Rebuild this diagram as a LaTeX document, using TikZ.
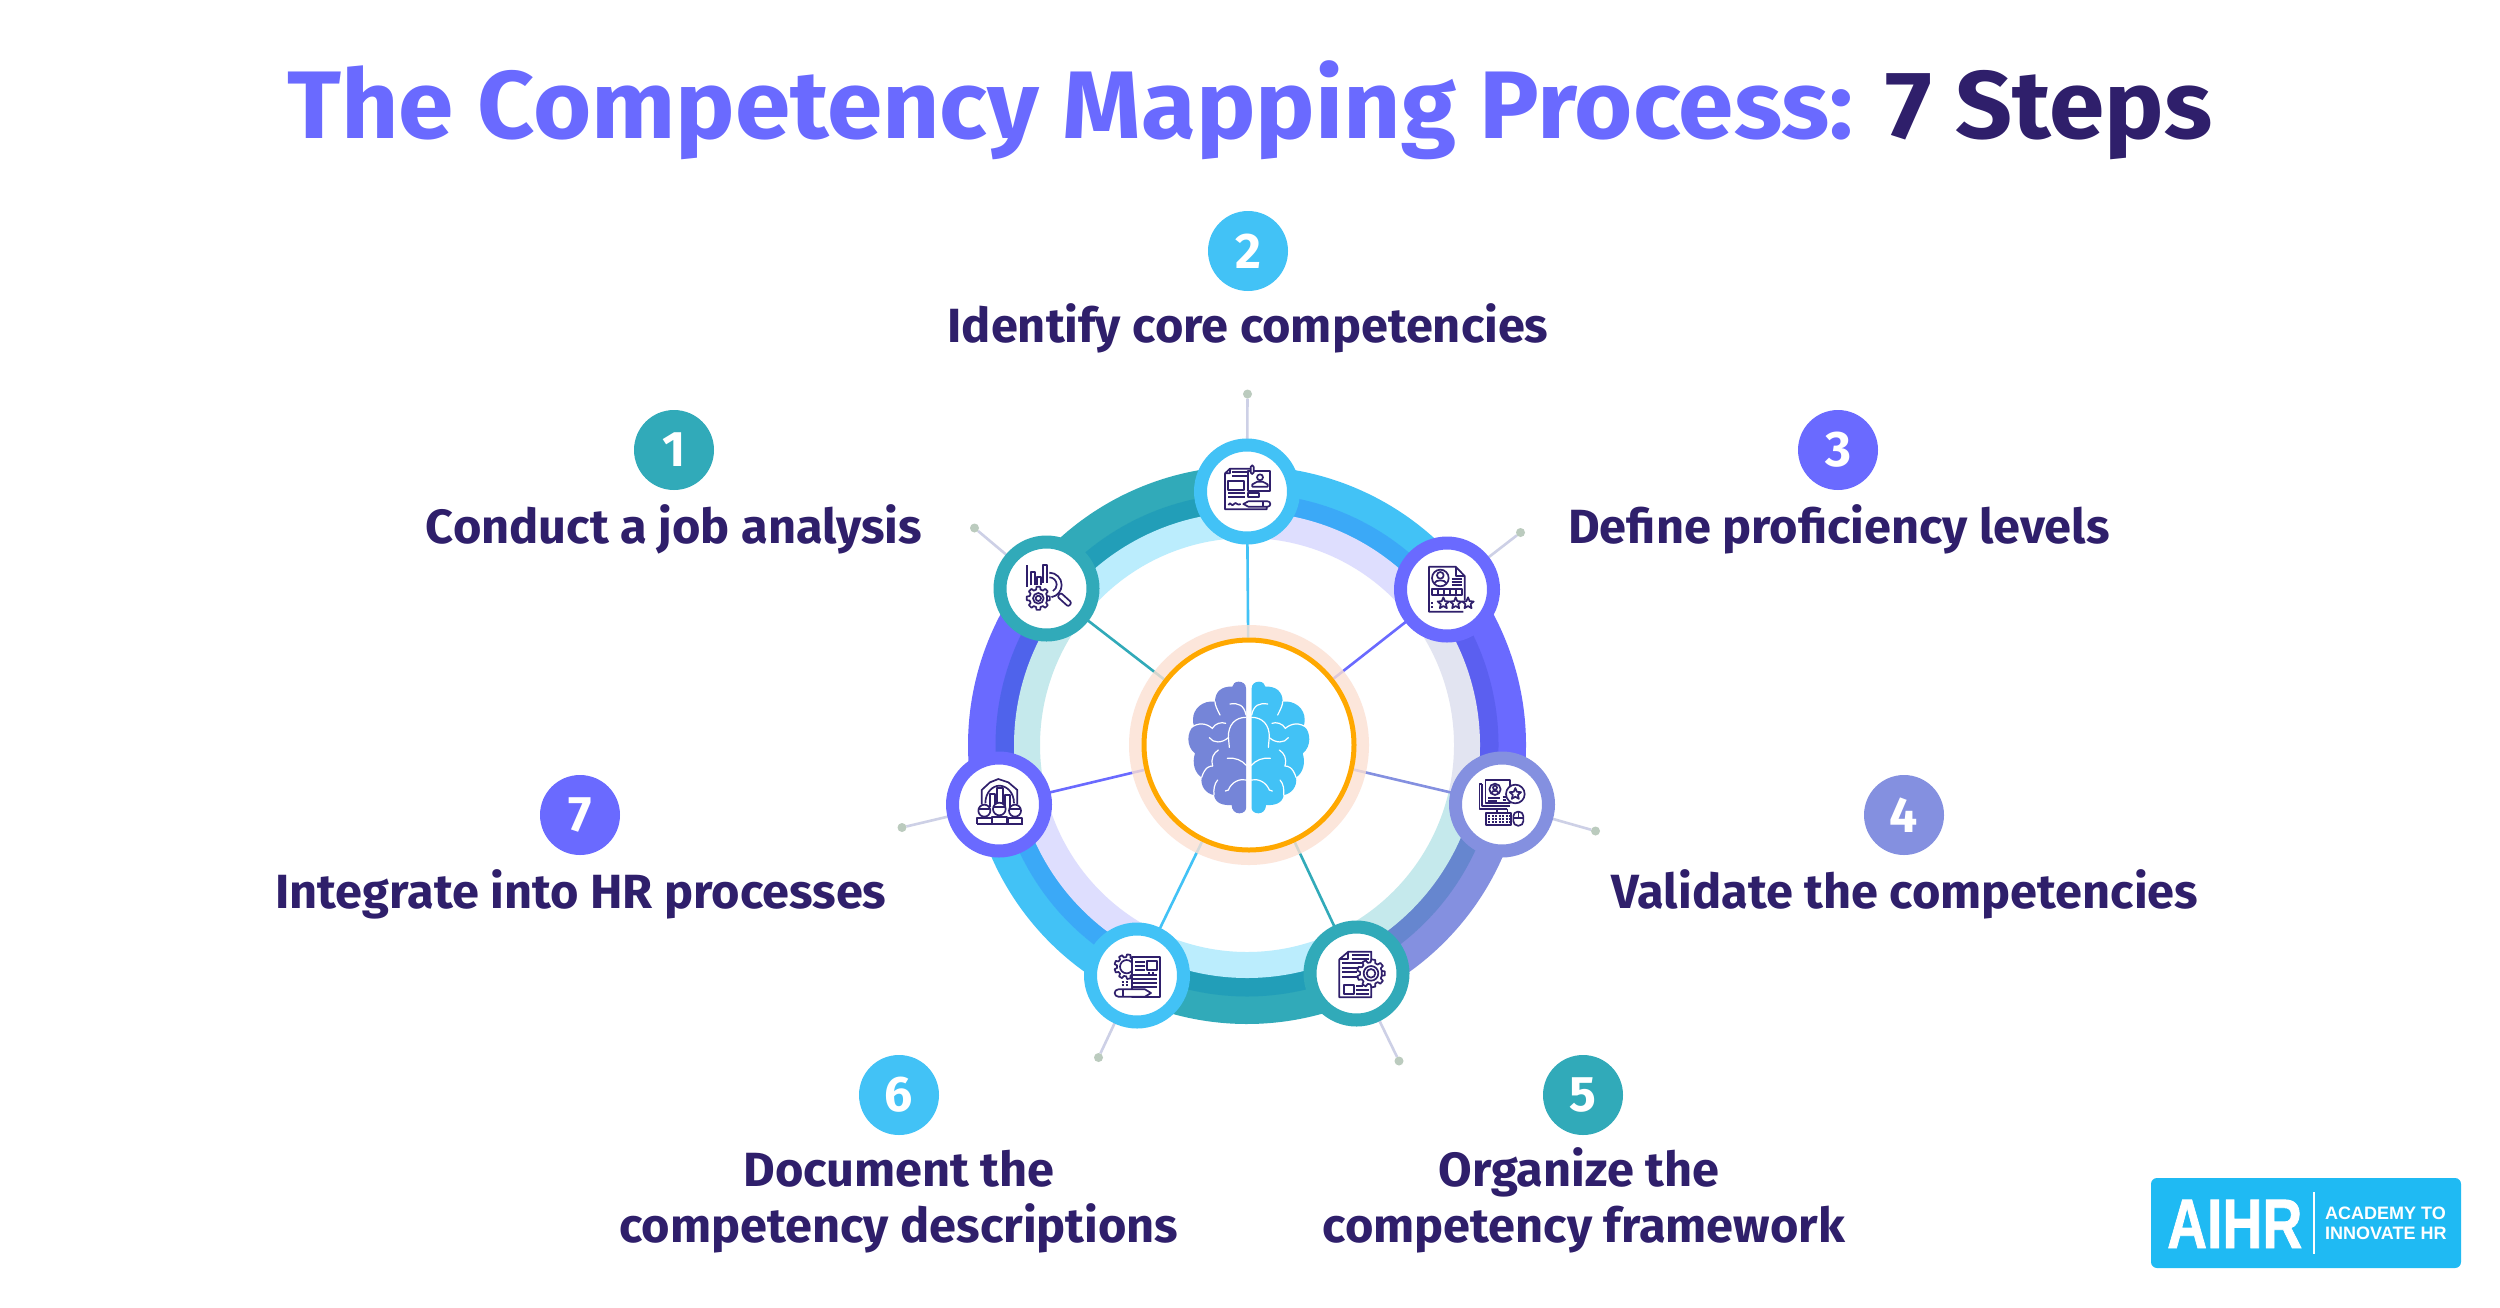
\documentclass[tikz,border=0pt]{standalone}
\usepackage{fontspec}
\setmainfont{Fira Sans}
\newfontfamily\titlefont[FakeStretch=1.04]{Fira Sans}
\newfontfamily\labelfont[FakeStretch=1.015]{Fira Sans}
\newfontfamily\logofont{Liberation Sans}
\newfontfamily\logobig[FakeBold=1.2]{Liberation Sans}
\usetikzlibrary{backgrounds}
\definecolor{cTeal}{HTML}{31AAB9}
\definecolor{cTealM}{HTML}{229EB8}
\definecolor{cSky}{HTML}{42C2F6}
\definecolor{cSkyM}{HTML}{3BA9F7}
\definecolor{cInd}{HTML}{6A6AFF}
\definecolor{cIndM}{HTML}{5B5FF0}
\definecolor{cIndN}{HTML}{4F63EB}
\definecolor{cPer}{HTML}{8490E0}
\definecolor{cPerM}{HTML}{6686CF}
\definecolor{lSky}{HTML}{BBEDFD}
\definecolor{lLav}{HTML}{DEDEFE}
\definecolor{lGry}{HTML}{E2E4F1}
\definecolor{lTeal}{HTML}{C5E9EC}
\definecolor{cDark}{HTML}{2F1F6B}
\definecolor{cPeach}{HTML}{FCE0D3}
\definecolor{cOrange}{HTML}{FFA800}
\definecolor{cLead}{HTML}{CDD0E6}
\definecolor{cDot}{HTML}{BBCBBE}
\definecolor{cBrain}{HTML}{7585D8}
\definecolor{cLogo}{HTML}{1FBAF3}
\tikzset{
  ringnode/.style={circle,fill=white,line width=13pt,minimum size=93pt,inner sep=0pt,outer sep=0pt},
  numnode/.style={circle,minimum size=80pt,inner sep=0pt,text=white,font=\fontsize{50}{50}\selectfont\bfseries},
  dotnode/.style={circle,fill=cDot,minimum size=9pt,inner sep=0pt,outer sep=0pt},
  labeltext/.style={anchor=base,inner sep=0pt,text=cDark,font=\fontsize{48}{48}\selectfont\labelfont\bfseries},
  spoke/.style={line width=2.6pt},
  leader/.style={cLead,line width=2.6pt},
  ic/.style={draw=cDark,line width=1.7pt,line join=round},
  zoomed/.style 2 args={shift={(#1pt,-#2pt)},x=.33333pt,y=-.33333pt},
  vein/.style={draw=white,line width=1.2pt,line cap=round}
}
\newcommand{\ringseg}[5]{%
  \draw[#3,line width=28pt] (1247,-745) ++(#1:265pt) arc[start angle=#1,end angle=#2,radius=265pt];
  \draw[#4,line width=19pt] (1247,-745) ++(#1:242pt) arc[start angle=#1,end angle=#2,radius=242pt];
  \draw[#5,line width=26pt] (1247,-745) ++(#1:220pt) arc[start angle=#1,end angle=#2,radius=220pt];
}
\newcommand{\cog}[5]{% cx cy rout rin n
  \begin{scope}[shift={(#1,#2)}]
    \pgfmathsetmacro{\st}{360/#5}
    \pgfmathsetmacro{\sa}{\st*.32}
    \pgfmathsetmacro{\sb}{\st*.2}
    \draw[ic,fill=white] (-\sa:#4) -- (-\sb:#3) -- (\sb:#3) -- (\sa:#4)
      \foreach \k in {1,...,#5} { -- ({\k*\st-\sa}:#4) -- ({\k*\st-\sb}:#3) -- ({\k*\st+\sb}:#3) -- ({\k*\st+\sa}:#4) } -- cycle;
  \end{scope}}
\newcommand{\staricon}[3]{%
  \begin{scope}[shift={(#1,#2)}]
    \draw[ic,fill=white] (-90:#3) -- (-54:#3*.45) -- (-18:#3) -- (18:#3*.45) -- (54:#3) -- (90:#3*.45) -- (126:#3) -- (162:#3*.45) -- (198:#3) -- (234:#3*.45) -- cycle;
  \end{scope}}
\newcommand{\brainhalf}{%
  \fill (378,505) -- (378,145) .. controls (378,132) and (368,125) .. (356,125) .. controls (345,125) and (338,132) .. (337,140) .. controls (305,138) and (285,155) .. (285,185) .. controls (250,180) and (218,205) .. (219,240) .. controls (219,248) and (220,252) .. (222,257) .. controls (200,275) and (198,320) .. (225,340) .. controls (215,370) and (225,400) .. (245,412) .. controls (240,440) and (260,462) .. (282,465) .. controls (285,490) and (310,497) .. (335,495) .. controls (335,510) and (345,520) .. (358,520) .. controls (370,520) and (378,512) .. (378,505) -- cycle;
  \draw[vein] (300,225) .. controls (290,205) and (285,195) .. (285,185);
  \draw[vein] (330,192) .. controls (355,188) and (372,195) .. (378,225);
  \draw[vein] (378,232) .. controls (345,232) and (325,255) .. (325,290) -- (328,322);
  \draw[vein] (210,265) .. controls (235,245) and (260,250) .. (277,265) .. controls (285,250) and (305,245) .. (317,250);
  \draw[vein] (268,293) .. controls (280,310) and (305,310) .. (325,293);
  \draw[vein] (295,330) .. controls (280,340) and (272,355) .. (278,378);
  \draw[vein] (245,412) .. controls (255,380) and (270,378) .. (278,378);
  \draw[vein] (322,355) .. controls (345,352) and (365,360) .. (380,377);
  \draw[vein] (293,420) .. controls (283,430) and (280,450) .. (282,465);
  \draw[vein] (316,453) -- (325,450) .. controls (335,425) and (360,415) .. (380,420);
}
\begin{document}
\begin{tikzpicture}[x=1pt,y=1pt]
\useasboundingbox (0,0) rectangle (2500,-1307);

% title
\node[anchor=base west,inner sep=0pt,font=\fontsize{96}{96}\selectfont\titlefont\bfseries] (title) at (287,-138)
  {\textcolor{cInd}{The Competency Mapping Process:} \textcolor{cDark}{7 Steps}};

% hub
\node[circle,fill=cPeach,fill opacity=.8,minimum size=240pt,inner sep=0pt,outer sep=0pt] (halo) at (1249,-745) {};
\node[circle,fill=white,draw=cOrange,line width=5pt,minimum size=210pt,inner sep=0pt] (hub) at (1249,-745) {};

% ring nodes
\node[ringnode,draw=cTeal] (n1) at (1046.5,-588.5) {};
\node[ringnode,draw=cSky] (n2) at (1247,-491.5) {};
\node[ringnode,draw=cInd] (n3) at (1447,-589.5) {};
\node[ringnode,draw=cPer] (n4) at (1502,-804.5) {};
\node[ringnode,draw=cTeal] (n5) at (1356.5,-973.5) {};
\node[ringnode,draw=cSky] (n6) at (1137,-975.5) {};
\node[ringnode,draw=cInd] (n7) at (999,-804.5) {};

% dots
\node[dotnode] (d1) at (974.5,-528) {};
\node[dotnode] (d2) at (1247.5,-394) {};
\node[dotnode] (d3) at (1520.5,-532.5) {};
\node[dotnode] (d4) at (1595.5,-831) {};
\node[dotnode] (d5) at (1399,-1061) {};
\node[dotnode] (d6) at (1098.5,-1057.5) {};
\node[dotnode] (d7) at (902,-827.5) {};

\begin{scope}[on background layer]
  \fill[white] (0,0) rectangle (2500,-1307);
  \ringseg{90.7}{38}{cSky}{cSkyM}{lLav}
  \ringseg{38}{-13}{cInd}{cIndM}{lGry}
  \ringseg{-13}{-64.7}{cPer}{cPerM}{lTeal}
  \ringseg{-64.7}{-116}{cTeal}{cTealM}{lSky}
  \ringseg{-116}{-166.7}{cSky}{cSkyM}{lLav}
  \ringseg{-166.7}{-217.7}{cInd}{cIndN}{lTeal}
  \ringseg{-217.7}{-269.3}{cTeal}{cTealM}{lSky}
  \draw[spoke,cTeal] (hub) -- (n1);
  \draw[spoke,cSky] (hub) -- (n2);
  \draw[spoke,cInd] (hub) -- (n3);
  \draw[spoke,cPer] (hub) -- (n4);
  \draw[spoke,cTeal] (hub) -- (n5);
  \draw[spoke,cSky] (hub) -- (n6);
  \draw[spoke,cInd] (hub) -- (n7);
  \draw[leader] (n1) -- (d1);
  \draw[leader] (n2) -- (d2);
  \draw[leader] (n3) -- (d3);
  \draw[leader] (n4) -- (d4);
  \draw[leader] (n5) -- (d5);
  \draw[leader] (n6) -- (d6);
  \draw[leader] (n7) -- (d7);
\end{scope}

% brain
\begin{scope}[zoomed={1120}{640}]
  \begin{scope}[cBrain]\brainhalf\end{scope}
  \begin{scope}[shift={(773,0)},x=-.33333pt,cSky]\brainhalf\end{scope}
\end{scope}

% icon 1 and 2
\begin{scope}[zoomed={1000}{440}]
  % icon 1
  \draw[ic] (80,375) -- (80,440);
  \draw[ic] (93,435) -- (93,395) -- (105,395) -- (105,435);
  \draw[ic] (110,435) -- (110,412) -- (122,412) -- (122,435);
  \draw[ic] (128,430) -- (128,375) -- (140,375) -- (140,430);
  \draw[ic] (148,398) arc[start angle=-90,end angle=80,radius=37];
  \draw[ic] (148,412) arc[start angle=-90,end angle=60,radius=22];
  \draw[ic,fill=white,rounded corners=2pt] (172,470) -- (182,458) -- (215,488) -- (205,500) -- cycle;
  \cog{115}{475}{35}{27}{8}
  \draw[ic] (115,475) circle[radius=16];
  \draw[ic] (115,475) circle[radius=8];
  % icon 2
  \draw[ic] (690,86) -- (755,86) (675,100) -- (690,86) -- (690,100) -- (675,100) -- (675,208) -- (800,208) -- (800,200);
  \draw[ic] (685,122) rectangle (733,150);
  \draw[ic] (697,97) -- (742,97) (697,108) -- (742,108) (685,160) -- (735,160) (685,172) -- (735,172);
  \draw[ic,fill=white] (745,93) rectangle (811,152);
  \draw[ic,fill=white,rounded corners=1.5pt] (752,76) rectangle (761,102);
  \draw[ic] (780,112) circle[radius=9];
  \draw[ic] (757,140) -- (757,133) -- (772,125) -- (788,125) -- (803,133) -- (803,140) -- cycle;
  \draw[ic] (745,160) rectangle (777,172);
  \draw[ic] (685,195) .. controls (692,180) and (695,205) .. (702,192) .. controls (708,182) and (712,200) .. (722,192);
  \draw[ic,fill=white] (730,192) -- (745,184) -- (803,184) arc[start angle=-90,end angle=90,radius=8] -- (745,200) -- cycle;
  \draw[ic] (790,184) -- (790,200);
\end{scope}

% icon 3 and 4
\begin{scope}[zoomed={1400}{540}]
  \draw[ic] (194,180) -- (194,108) -- (167,80) -- (87,80) -- (87,215) -- (190,215);
  \draw[ic] (167,80) -- (167,108) -- (194,108);
  \draw[ic] (121,114) circle[radius=25];
  \draw[ic] (121,106) circle[radius=10];
  \draw[ic] (103,130) .. controls (106,118) and (136,118) .. (139,130);
  \draw[ic] (155,116) -- (187,116) (155,125) -- (187,125) (155,134) -- (187,134);
  \draw[ic] (95,148) rectangle (185,165);
  \draw[ic] (113,148) -- (113,165) (131,148) -- (131,165) (149,148) -- (149,165) (167,148) -- (167,165);
  \draw[ic,dash pattern=on 2pt off 2pt] (95,186) -- (95,210);
  \staricon{204}{190}{18}
  \staricon{167}{190}{18}
  \staricon{130}{190}{18}
  % icon 4
  \draw[ic] (246,732) -- (238,732) -- (238,806) -- (322,806);
  \draw[ic] (246,732) -- (246,798) -- (330,798);
  \draw[ic,fill=white] (256,720) rectangle (330,790);
  \draw[ic] (285,748) circle[radius=17];
  \draw[ic] (285,743) circle[radius=6];
  \draw[ic] (274,759) .. controls (278,750) and (292,750) .. (296,759);
  \draw[ic] (264,775) -- (300,775) (264,784) -- (290,784) (308,770) -- (318,770) (308,780) -- (318,780);
  \draw[ic,fill=white] (346,762) circle[radius=28];
  \staricon{346}{762}{18}
  \draw[ic] (290,806) -- (290,820) (322,806) -- (322,820);
  \draw[ic] (258,820) rectangle (332,856);
  \draw[ic,dash pattern=on 2pt off 1.5pt] (264,829) -- (328,829) (264,838) -- (328,838) (264,847) -- (328,847);
  \draw[ic,rounded corners=4.5pt] (340,815) rectangle (370,857);
  \draw[ic] (355,815) -- (355,835) (340,835) -- (370,835);
\end{scope}

% icon 5 and 6
\begin{scope}[zoomed={1085}{920}]
  % icon 5
  \draw[ic] (859,125) -- (859,95) -- (790,95) -- (763,118) -- (763,232) -- (859,232) -- (859,200);
  \draw[ic] (790,95) -- (790,118) -- (763,118);
  \draw[ic] (800,106) -- (852,106) (800,118) -- (852,118) (772,130) -- (830,130) (772,143) -- (818,143) (772,156) -- (815,156) (772,170) -- (825,170);
  \draw[ic] (776,194) rectangle (806,222);
  \draw[ic] (814,198) -- (835,198) (814,210) -- (852,210) (814,222) -- (852,222);
  \cog{858}{160}{42}{33}{9}
  \draw[ic] (858,160) circle[radius=22];
  \draw[ic] (858,160) circle[radius=13];
  % icon 6
  \cog{125}{140}{37}{29}{9}
  \draw[ic] (125,140) circle[radius=20];
  \draw[ic,fill=white] (141,112) rectangle (225,230);
  \draw[ic] (187,123) rectangle (215,150);
  \draw[ic] (150,125) -- (180,125) (150,137) -- (180,137) (150,150) -- (180,150) (145,165) -- (215,165) (145,177) -- (215,177) (145,189) -- (215,189) (145,200) -- (215,200);
  \draw[ic,dash pattern=on 2pt off 2pt] (110,186) -- (132,186) (110,196) -- (132,196) (190,158) -- (212,158);
  \draw[ic,fill=white] (198,219) -- (180,208) -- (100,208) arc[start angle=-90,end angle=-270,radius=11] -- (180,230) -- cycle;
  \draw[ic] (113,208) -- (113,230);
\end{scope}

% icon 7
\begin{scope}[zoomed={940}{745}]
  \draw[ic] (125,178) -- (125,135) -- (150,112) -- (175,102) -- (205,112) -- (232,135) -- (232,178);
  \draw[ic] (136,175) .. controls (136,140) and (160,122) .. (178,122) .. controls (198,122) and (222,140) .. (222,175);
  \draw[ic] (150,185) -- (150,148) -- (165,148) -- (165,185);
  \draw[ic] (171,185) -- (171,130) -- (190,130) -- (190,185);
  \draw[ic] (195,185) -- (195,150) -- (210,150) -- (210,185);
  \draw[ic,fill=white] (112,236) -- (112,220) -- (155,220) -- (155,236);
  \draw[ic,fill=white] (157,236) -- (157,215) -- (202,215) -- (202,236);
  \draw[ic,fill=white] (204,236) -- (204,220) -- (246,220) -- (246,236);
  \draw[ic] (110,236) -- (248,236);
  \draw[ic,fill=white] (133,197) circle[radius=18];
  \draw[ic,fill=white] (178,192) circle[radius=19];
  \draw[ic,fill=white] (225,197) circle[radius=18];
  \draw[ic] (118,192) -- (148,192) (160,185) -- (196,185) (210,192) -- (240,192);
\end{scope}

% number badges
\node[numnode,fill=cTeal] (b1) at (674,-450) {1};
\node[numnode,fill=cSky] (b2) at (1248,-251) {2};
\node[numnode,fill=cInd] (b3) at (1838,-450) {3};
\node[numnode,fill=cPer] (b4) at (1904,-815) {4};
\node[numnode,fill=cTeal] (b5) at (1583,-1095) {5};
\node[numnode,fill=cSky] (b6) at (899,-1095) {6};
\node[numnode,fill=cInd] (b7) at (580,-815) {7};

% labels
\node[labeltext] (t1) at (674,-543) {Conduct a job analysis};
\node[labeltext] (t2) at (1248,-342) {Identify core competencies};
\node[labeltext] (t3) at (1839,-543) {Define proficiency levels};
\node[labeltext] (t4) at (1905,-908) {Validate the competencies};
\node[labeltext] (t5a) at (1579,-1186) {Organize the};
\node[labeltext] (t5b) at (1584,-1242) {competency framework};
\node[labeltext] (t6a) at (899,-1186) {Document the};
\node[labeltext] (t6b) at (899,-1242) {competency descriptions};
\node[labeltext] (t7) at (581,-908) {Integrate into HR processes};

% logo
\fill[cLogo,rounded corners=6pt] (2151,-1178) rectangle (2461,-1268);
\node[anchor=base west,inner sep=0pt,text=white,xscale=.79,font=\fontsize{70}{70}\selectfont\logobig\bfseries] (logoA) at (2167,-1248) {AIHR};
\fill[white] (2312.5,-1192) rectangle (2315,-1254);
\node[anchor=base west,inner sep=0pt,text=white,font=\fontsize{18}{18}\selectfont\logofont\bfseries] (logoB) at (2325,-1219) {ACADEMY TO};
\node[anchor=base west,inner sep=0pt,text=white,font=\fontsize{18}{18}\selectfont\logofont\bfseries] (logoC) at (2325,-1239) {INNOVATE HR};
\end{tikzpicture}
\end{document}
